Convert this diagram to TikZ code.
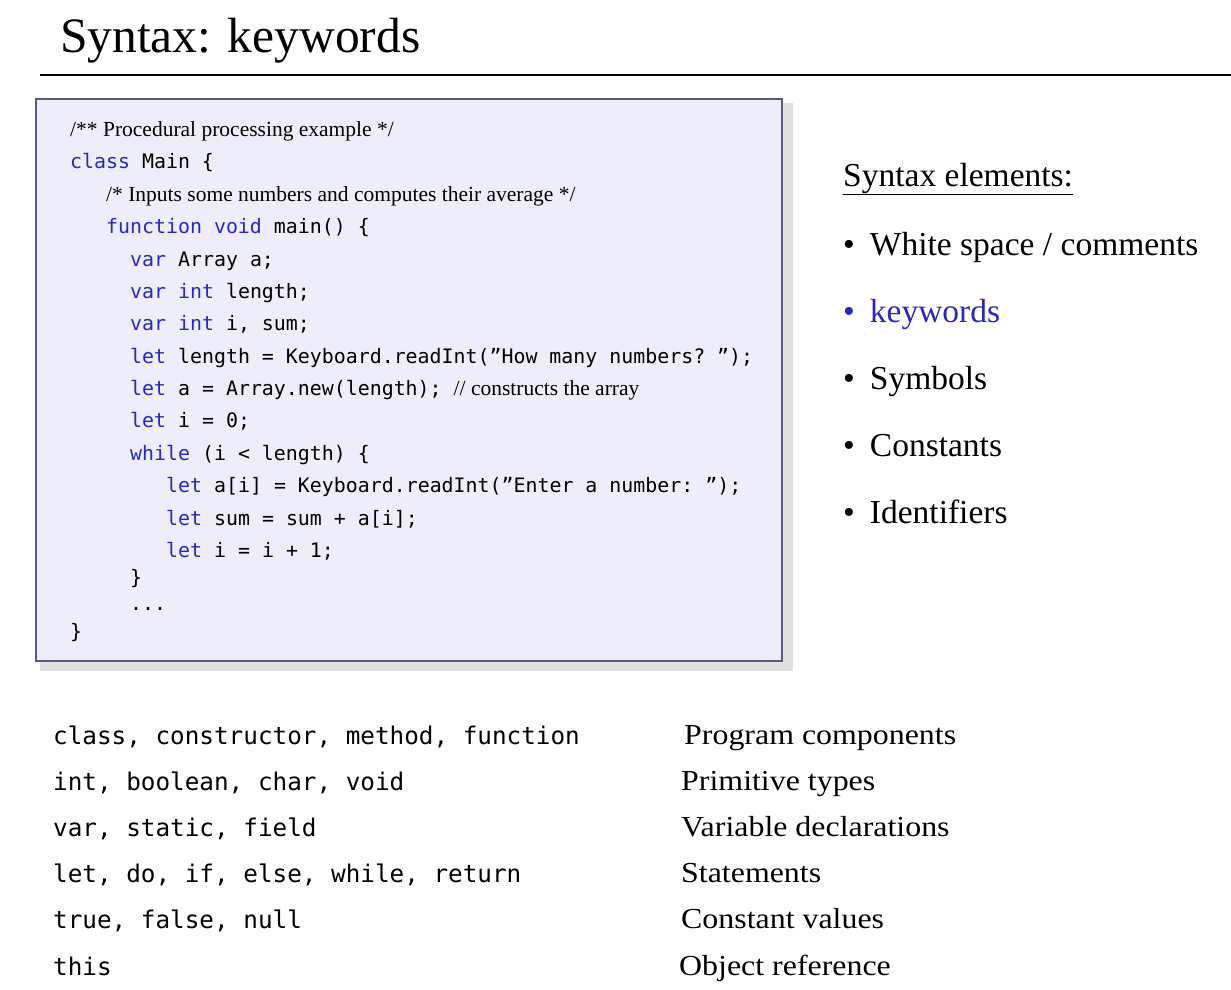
\documentclass[tikz,border=0pt]{standalone}
\usepackage{fontspec}
\setmainfont{Liberation Serif}
\setmonofont{DejaVu Sans Mono}
\usetikzlibrary{positioning}
\definecolor{kw}{RGB}{40,40,190}
\definecolor{boxfill}{RGB}{238,238,250}
\definecolor{boxline}{RGB}{90,90,130}
\begin{document}
\begin{tikzpicture}[x=1pt,y=-1pt,
  code/.style={anchor=base west,inner sep=0pt,font=\ttfamily\fontsize{19.9}{22}\selectfont},
  cmt/.style={anchor=base west,inner sep=0pt,font=\fontsize{21.5}{22}\selectfont},
  kwl/.style={anchor=base west,inner sep=0pt,font=\ttfamily\fontsize{24.3}{26}\selectfont},
  lbl/.style={anchor=base west,inner sep=0pt,font=\fontsize{29}{30}\selectfont},
  elem/.style={anchor=base west,inner sep=0pt,font=\fontsize{33.5}{36}\selectfont}]
\useasboundingbox (0,0) rectangle (1231,989);
\node[anchor=base west,inner sep=0pt,font=\fontsize{49.5}{52}\selectfont] (title) at (60,52) {Syntax: keywords};
\draw[line width=2pt] (40,75) coordinate (r1) -- (1231,75) coordinate (r2);
% box with shadow
\fill[black!25] (42,105) rectangle (790,668);
\fill[black!12] (40,103) rectangle (793,671);
\draw[boxline,line width=1.2pt,fill=boxfill] (36,99) rectangle (782,661);
\newcommand\K[1]{\textcolor{kw}{#1}}
\node[cmt] (l1) at (70,136) {/** Procedural processing example */};
\node[code] (l2) at (70,168) {\K{class} Main \{};
\node[cmt] (l3) at (106,201) {/* Inputs some numbers and computes their average */};
\node[code] (l4) at (106,233) {\K{function} \K{void} main() \{};
\node[code] (l5) at (130,266) {\K{var} Array a;};
\node[code] (l6) at (130,298) {\K{var} \K{int} length;};
\node[code] (l7) at (130,330) {\K{var} \K{int} i, sum;};
\node[code] (l8) at (130,363) {\K{let} length = Keyboard.readInt(”How many numbers? ”);};
\node[code] (l9) at (130,395) {\K{let} a = Array.new(length); \rmfamily\fontsize{21.5}{22}\selectfont// constructs the array};
\node[code] (l10) at (130,427) {\K{let} i = 0;};
\node[code] (l11) at (130,460) {\K{while} (i < length) \{};
\node[code] (l12) at (166,492) {\K{let} a[i] = Keyboard.readInt(”Enter a number: ”);};
\node[code] (l13) at (166,525) {\K{let} sum = sum + a[i];};
\node[code] (l14) at (166,557) {\K{let} i = i + 1;};
\node[code] (l15) at (130,584) {\}};
\node[code] (l16) at (130,610) {...};
\node[code] (l17) at (70,638) {\}};
% syntax elements
\node[elem] (se) at (843,186) {\underline{Syntax elements:}};
\node[elem] (e1) at (843,255) {\textbullet\hspace{15pt}White space / comments};
\node[elem,text=kw] (e2) at (843,322) {\textbullet\hspace{15pt}keywords};
\node[elem] (e3) at (843,389) {\textbullet\hspace{15pt}Symbols};
\node[elem] (e4) at (843,456) {\textbullet\hspace{15pt}Constants};
\node[elem] (e5) at (843,523) {\textbullet\hspace{15pt}Identifiers};
% keyword table
\node[kwl] (k1) at (53,744) {class, constructor, method, function};
\node[kwl] (k2) at (53,790) {int, boolean, char, void};
\node[kwl] (k3) at (53,836) {var, static, field};
\node[kwl] (k4) at (53,882) {let, do, if, else, while, return};
\node[kwl] (k5) at (53,928) {true, false, null};
\node[kwl] (k6) at (53,975) {this};
\node[lbl] (d1) at (684,744) {\scalebox{1.1}[1]{Program components}};
\node[lbl] (d2) at (681,790) {\scalebox{1.1}[1]{Primitive types}};
\node[lbl] (d3) at (681,836) {\scalebox{1.1}[1]{Variable declarations}};
\node[lbl] (d4) at (681,882) {\scalebox{1.1}[1]{Statements}};
\node[lbl] (d5) at (681,928) {\scalebox{1.1}[1]{Constant values}};
\node[lbl] (d6) at (679,975) {\scalebox{1.1}[1]{Object reference}};
\end{tikzpicture}
\end{document}
